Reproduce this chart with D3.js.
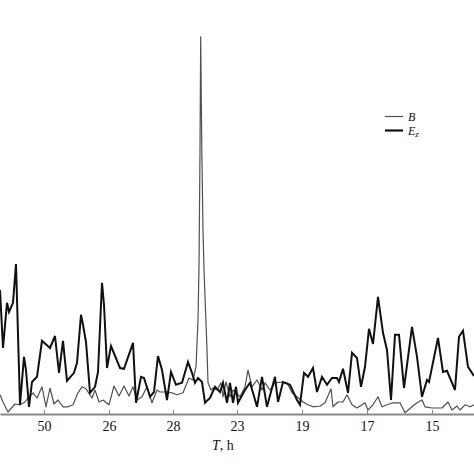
<!DOCTYPE html>
<html><head><meta charset="utf-8">
<script src="https://cdn.jsdelivr.net/npm/d3@7"></script>
<style>html,body{margin:0;padding:0;background:#fff;}svg{display:block;}</style>
</head><body>
<script>
// frequency bins (x) and amplitudes for E_z (thick black)
const ezX = [0,1.5,3.5,4.5,6.5,8,10,12,13,14.5,16,18.5,21,25,27.5,29.5,31.5,33.5,37,38.5,40.5,41.5,43,45,47.5,49,51,52,53.5,55.5,60,62,66.5,68,70.5,72,75,77,79,81,83.5,85.5,88,91,94,96,97.5,99,101,102.5,105,107.5,110,111.5,113.5,115,116.5,118,119,122.5,125,126.5,128.5,131,133.5,137.5,139,141.5,145,148.5,150,152,154,156.5,158.5,161,163.5,166,168.5,169.5,171.5,174,176,178.5,180.5,182.5,184.5,186.5,189,191.5,193.5,195.5,197.5,199.5,202,206,208.5,211,213.5,214.5,219,221.5,223.5,227.5,229.5,231.5,234,237];
const ezY = [31,16.5,27.8,25.5,27.8,37.5,2.3,14.3,11,1.8,8,9.3,18.3,16.5,19.5,10.3,18.3,8.3,10.3,12.8,24.8,22.3,18,5.3,6.8,10.5,32.8,27.3,11.5,17,11.5,11.3,17.8,2.8,9.3,9,4.3,5.5,14.5,11,3.5,10.5,7.3,7.8,13,10.3,7.8,9,8,2.8,4,6.8,5.5,7.8,2.8,7.8,2.8,6.8,2.8,6,7.8,5.3,1.8,9.3,1.8,9.3,3,8,7.3,3.5,2.3,10.3,9.3,11.5,5.5,9.3,7.3,9,9,8,11.3,5.3,15.3,14,6.8,11.8,21.3,17.5,29.3,20.3,16,3.5,19.8,19.8,6.5,21.8,14.3,4.3,8.5,8,19,10.5,10.8,6,19.3,20.8,11.8,9.5];
// frequency bins (x) and amplitudes for B (thin gray)
const bX = [0,1.5,4,7.5,10,12.5,14,16.5,18.5,21,23,25,27,29,31.5,34,36.5,39,41,43,46,47.5,49.5,51.5,54.5,57,59.5,62,64.5,66.5,68.5,71,73.5,76,78.5,80,83.5,86,88.5,91.5,94.5,96.5,98,99,99.5,100,100.35,100.9,101.5,102,103,103.5,104,105.5,106.5,108.5,110.5,111.5,113,115,116.5,120,122.5,124,126,128.5,131,132.5,135,137.5,141,143.5,146,148.5,151.5,154,156.5,160,162.5,165.5,166.5,169,171.5,173.5,176,178.5,181,182.5,184,186.5,189,191,193.5,196.5,200,202.5,206,208.5,211,212.5,216,218.5,221,224,226,228.5,230,232.5,235,237];
const bY = [4.8,3,0.5,2.5,2.3,3,4,5.3,4,6.8,1.8,6.5,2.5,3.5,1.8,1.8,2.3,5.3,6.8,6.3,4,6,3,3.5,2.3,7,4.5,7,4.5,6.8,3.5,4.3,6.8,2.8,6,5.5,5.5,5.3,4.8,5.3,9,8.5,11.8,23.5,36.8,66,94.3,66,46,36,22.8,16,7.8,6,6.5,6,7.8,4.3,8,4.3,6,4.3,6.8,11,6.8,8.5,6,7.8,6,7.8,8,7.8,5.3,4.3,3,2.3,1.8,2,2.8,6.3,1.8,3,3,4.8,2.3,1.5,2.3,2.8,1,2.3,4.3,1.8,2.3,2.8,2.8,0.3,1.8,2.8,3.5,1.8,1.5,1.5,1.5,3,1,2,1,2.3,1.8,2.3];
// axis ticks (bin positions) and their labels (period T, h)
const tickPos = [22,54.5,86.5,118.5,151,183.5,216];
const tickLabels = ["50","26","28","23","19","17","15"];
const seriesNames = ["B","E"];

const W = 474, H = 474;
const svg = d3.select("body").append("svg").attr("width", W).attr("height", H);
const x = d3.scaleLinear().domain([0,237]).range([0,474]);
const y = d3.scaleLinear().domain([0,95]).range([414,34]);

const line = d3.line().x(d => x(d[0])).y(d => y(d[1]));
const bData = bX.map((v,i) => [v, bY[i]]);
const ezData = ezX.map((v,i) => [v, ezY[i]]);

svg.append("path").datum(bData).attr("d", line)
  .attr("fill","none").attr("stroke","#505050").attr("stroke-width",1.2).attr("stroke-linejoin","round");
svg.append("path").datum(ezData).attr("d", line)
  .attr("fill","none").attr("stroke","#111").attr("stroke-width",2).attr("stroke-linejoin","miter");

const axis = d3.axisBottom(x).tickValues(tickPos)
  .tickFormat((d,i) => tickLabels[i]).tickSizeInner(-4).tickSizeOuter(0).tickPadding(7);
const g = svg.append("g").attr("transform","translate(0,414)").call(axis);
g.select(".domain").attr("stroke","#888").attr("stroke-width",2);
g.selectAll(".tick line").attr("stroke","#888").attr("stroke-width",1);
g.selectAll(".tick text").attr("fill","#111").attr("font-family","'Liberation Serif', 'Times New Roman', serif").attr("font-size",14);

const xl = svg.append("text").attr("x",212).attr("y",450)
  .attr("font-family","'Liberation Serif', 'Times New Roman', serif").attr("font-size",14).attr("fill","#111");
xl.append("tspan").attr("font-style","italic").text("T");
xl.append("tspan").text(", h");

// legend
const lg = svg.append("g");
lg.append("line").attr("x1",385).attr("x2",403).attr("y1",116.5).attr("y2",116.5).attr("stroke","#505050").attr("stroke-width",1.2);
lg.append("line").attr("x1",385).attr("x2",403).attr("y1",130.5).attr("y2",130.5).attr("stroke","#111").attr("stroke-width",2.2);
lg.append("text").attr("x",408).attr("y",120.5).attr("font-family","'Liberation Serif', serif").attr("font-style","italic").attr("font-size",12).attr("fill","#111").text(seriesNames[0]);
const et = lg.append("text").attr("x",408).attr("y",134.5).attr("font-family","'Liberation Serif', serif").attr("font-style","italic").attr("font-size",12).attr("fill","#111");
et.append("tspan").text(seriesNames[1]);
et.append("tspan").attr("font-size",9).attr("dy",2.5).text("z");
</script>
</body></html>
